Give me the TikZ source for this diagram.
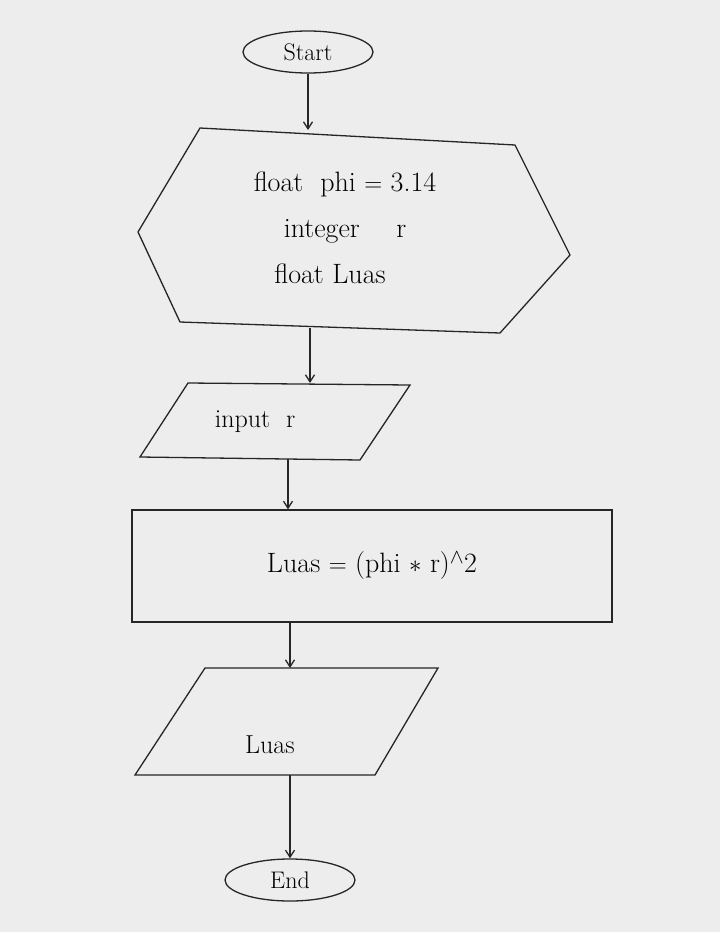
\documentclass[tikz,border=0pt]{standalone}
\usetikzlibrary{shapes.geometric,positioning,arrows.meta}
\tikzset{
  pen/.style={draw=black!85, line width=1.3pt},
  term/.style={pen, ellipse, minimum width=130pt, minimum height=42pt, font=\fontsize{24}{26}\selectfont},
  flow/.style={pen, -{Straight Barb[length=7pt,width=9pt]}}
}
\begin{document}
\begin{tikzpicture}[x=1pt, y=-1pt]
  \fill[black!7] (0,0) rectangle (720,932);
  \useasboundingbox (0,0) rectangle (720,932);
  % terminals
  \node[term] (start) at (308,52) {Start};
  \node[term] (end) at (290,880) {End};
  % declaration
  \draw[pen] (200,128) -- (515,145) -- (570,255) -- (500,333) -- (180,322) -- (138,232) -- cycle;
  \coordinate (dectop) at (308,130);
  \coordinate (decbot) at (310,328);
  \node[align=center, font=\fontsize{28}{46}\selectfont] (decl) at (345,228)
    {float \ phi $=$ 3.14\\ integer \quad r\hspace*{40pt}\\ float Luas\hspace*{30pt}};
  % input
  \draw[pen] (188,383) -- (410,385) -- (360,460) -- (140,457) -- cycle;
  \coordinate (intop) at (310,383);
  \coordinate (inbot) at (288,459);
  \node[font=\fontsize{26}{30}\selectfont] (input) at (255,422) {input \ r};
  % process
  \node[pen, minimum width=480pt, minimum height=112pt, font=\fontsize{28}{30}\selectfont] (calc) at (372,566)
    {Luas $=$ (phi $*$ r)$^{\wedge}$2};
  % output
  \draw[pen] (205,668) -- (438,668) -- (375,775) -- (135,775) -- cycle;
  \coordinate (outtop) at (290,668);
  \coordinate (outbot) at (290,775);
  \node[font=\fontsize{26}{30}\selectfont] (output) at (270,745) {Luas};
  % connectors
  \draw[flow] (start) -- (dectop);
  \draw[flow] (decbot) -- (intop);
  \draw[flow] (inbot) -- (inbot |- calc.north);
  \draw[flow] (calc.south -| outtop) -- (outtop);
  \draw[flow] (outbot) -- (end);
\end{tikzpicture}
\end{document}
